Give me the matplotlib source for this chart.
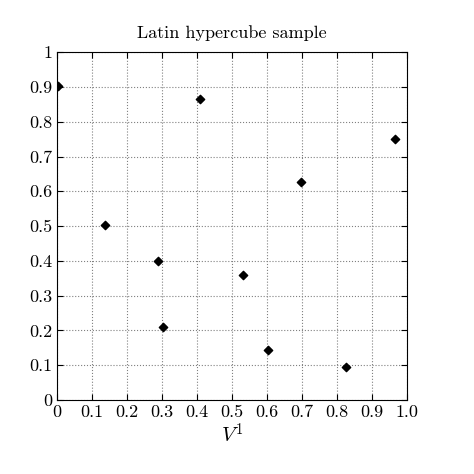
import matplotlib
matplotlib.use("Agg")
import matplotlib.pyplot as plt

plt.rcParams['font.family'] = 'serif'
plt.rcParams['font.serif'] = ['cmr10']
plt.rcParams['mathtext.fontset'] = 'cm'
plt.rcParams['axes.formatter.use_mathtext'] = True

# sample points (V1, V2)
v1 = [0.003, 0.137, 0.289, 0.303, 0.409, 0.531, 0.603, 0.697, 0.826, 0.966]
v2 = [0.902, 0.503, 0.400, 0.210, 0.865, 0.359, 0.144, 0.626, 0.095, 0.750]

x_ticks = [0, 0.1, 0.2, 0.3, 0.4, 0.5, 0.6, 0.7, 0.8, 0.9, 1.0]
x_labels = ["0", "0.1", "0.2", "0.3", "0.4", "0.5", "0.6", "0.7", "0.8", "0.9", "1.0"]
y_ticks = [0, 0.1, 0.2, 0.3, 0.4, 0.5, 0.6, 0.7, 0.8, 0.9, 1.0]
y_labels = ["0", "0.1", "0.2", "0.3", "0.4", "0.5", "0.6", "0.7", "0.8", "0.9", "1"]

fig = plt.figure(figsize=(4.74, 4.74), dpi=100)
ax = fig.add_axes([0.12, 0.156, 0.739, 0.734])

ax.scatter(v1, v2, marker='D', s=18, color='black', zorder=3)

ax.set_xlim(0, 1)
ax.set_ylim(0, 1)
ax.set_xticks(x_ticks)
ax.set_xticklabels(x_labels)
ax.set_yticks(y_ticks)
ax.set_yticklabels(y_labels)
ax.tick_params(direction='in', top=True, right=True, labelsize=13, length=4)
ax.grid(True, linestyle=':', color='gray', linewidth=0.8)

ax.set_title("Latin hypercube sample", fontsize=13, pad=10)
ax.set_xlabel(r"$V^1$", fontsize=15, labelpad=2)
ax.set_ylabel(r"$V^2$", fontsize=15)
ax.yaxis.set_label_coords(-0.17, 0.5)

fig.savefig("out.png", dpi=100)
